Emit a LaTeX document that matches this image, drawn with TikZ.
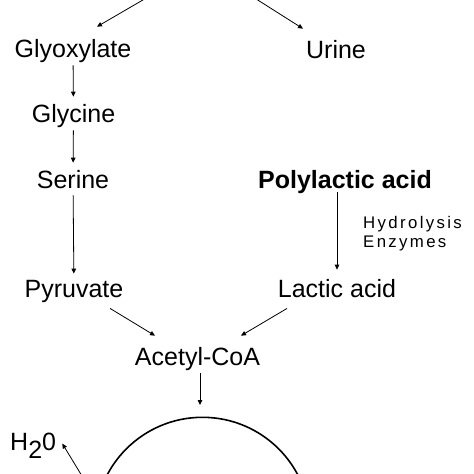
\documentclass[tikz,border=0pt]{standalone}
\usepackage{fontspec}
\setmainfont{Liberation Sans}
\usetikzlibrary{arrows.meta}

\begin{document}
\begin{tikzpicture}[x=1pt,y=-1pt]

      \useasboundingbox (0,0) rectangle (474,474);

      \begin{scope}[every node/.style={anchor=base,inner sep=3pt,font=\fontsize{25}{30}\selectfont}]
        \node (glyox)   at (73,57)    {Glyoxylate};
        \node (urine)   at (336,58)   {Urine};
        \node (glycine) at (73.5,122) {Glycine};
        \node (serine)  at (73,188)   {Serine};
        \node[font=\fontsize{25}{30}\selectfont\bfseries] (pla) at (345,188) {Polylactic acid};
        \node (pyr)     at (74,297)   {Pyruvate};
        \node (lactic)  at (337,297)  {Lactic acid};
        \node (acoa)    at (197.5,365) {Acetyl-CoA};
        \node[anchor=base west] (h2o) at (7,450) {H\raisebox{-8.5pt}{2}0};
      \end{scope}

      \node[anchor=north west,inner sep=0pt,align=left,
            font=\fontsize{16.8}{19}\selectfont\addfontfeature{LetterSpace=14}]
            (enz) at (363,216) {Hydrolysis\\Enzymes};

      \node[circle,draw,line width=1.6pt,minimum size=215.4pt,inner sep=0pt] (tca) at (202.5,525) {};

      \coordinate (srcL) at (148,-3);
      \coordinate (srcR) at (253,-3);
      \coordinate (cyc)  at (82,476);

      \begin{scope}[every edge/.style={draw,line width=0.8pt,-{Triangle[length=5pt,width=4.5pt]}}]
        \path (srcL) edge ([xshift=24pt,yshift=9pt]glyox.north);
        \path (srcR) edge ([xshift=-33pt,yshift=8pt]urine.north);
        \path (glyox)   edge[shorten >=4pt] (glycine);
        \path (glycine) edge[shorten >=4pt] (serine);
        \path (serine)  edge[shorten <=4pt,shorten >=3pt] (pyr);
        \path (lactic |- pla.south) edge[shorten <=-4pt,shorten >=6pt] (lactic.north);
        \path ([xshift=36pt,yshift=-3pt]pyr.south) edge ([xshift=-42.5pt,yshift=8pt]acoa.north);
        \path ([xshift=-50pt,yshift=-8pt]lactic.south) edge ([xshift=43.5pt,yshift=8pt]acoa.north);
        \path ([xshift=2.5pt]acoa.south) edge[shorten >=11.5pt] ([xshift=2.5pt]acoa.south |- tca.north);
        \path (cyc) edge ([xshift=3pt,yshift=2pt]h2o.east);
      \end{scope}

    \end{tikzpicture}
\end{document}
